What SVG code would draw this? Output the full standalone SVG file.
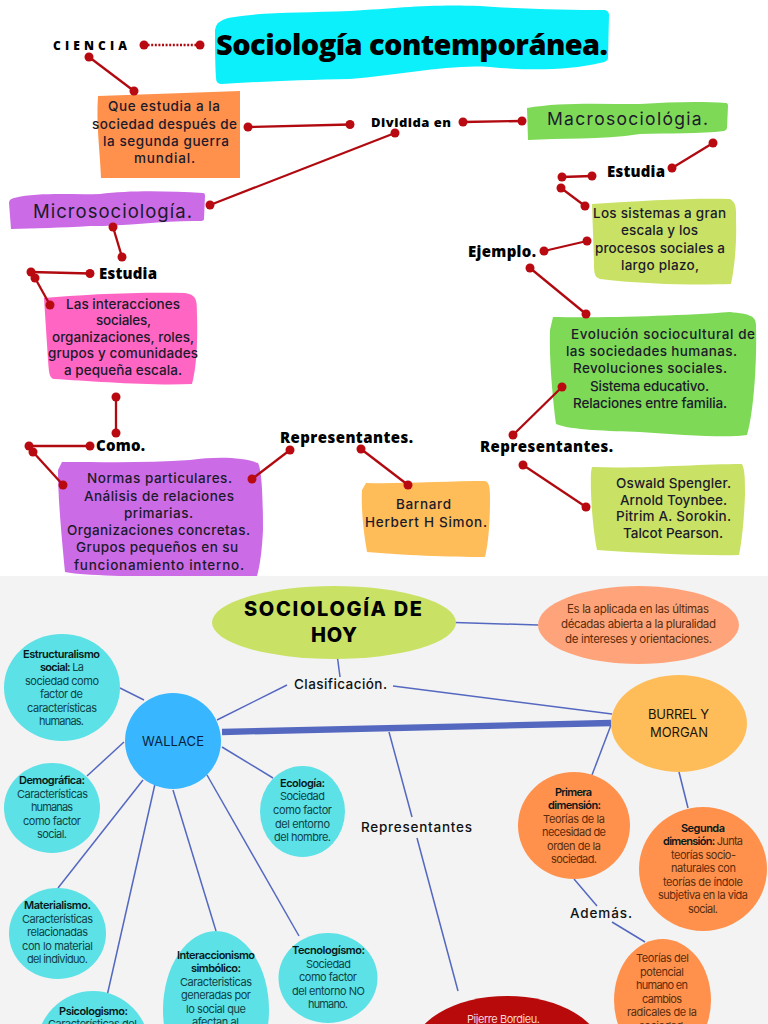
<svg xmlns="http://www.w3.org/2000/svg" width="768" height="1024" viewBox="0 0 768 1024">
<style>
.m{font-family:Inter,"Open Sans","Liberation Sans",sans-serif;font-weight:500;font-size:13.5px;fill:#1c1a2a}
.k{font-family:"Open Sans","Liberation Sans",sans-serif;font-weight:800;font-size:15px;fill:#000}
.l{font-family:Inter,"Liberation Sans",sans-serif;font-weight:400;font-size:11px}
.b{font-weight:600;fill:#06181a}
.c{fill:#0f4347}.o{fill:#5a2d0c}
.h{font-family:Inter,"Liberation Sans",sans-serif;font-weight:500;font-size:13.5px;fill:#111}
.t{font-family:Inter,"Liberation Sans",sans-serif;font-weight:800;font-size:20px;fill:#000}
.r line{stroke:#b00a10;stroke-width:2.3}
.r circle{fill:#b80a10;r:4.5px}
.u line{stroke:#5468c0;stroke-width:1.5}
</style>
<rect width="768" height="1024" fill="#fff"/>
<g id="titulo"><path d="M215 30Q216 21 228 18C260 12 300 13 350 11C400 8 430 4 480 6C520 9 570 10 605 10Q609 11 609 15L608 58Q608 62 600 63C570 70 530 71 490 67C450 64 400 75 350 79C300 80 250 82 222 84Q216 84 216 78C215 60 215 45 215 30Z" fill="#0cf0fb"/><text x="216" y="55" textLength="392" style="font-family:'Open Sans','Liberation Sans',sans-serif;font-weight:800;font-size:29px;fill:#000">Sociología contemporánea.</text></g>
<g id="ciencia"><text class="k" x="53" y="50" textLength="74" style="font-size:12px">CIENCIA</text></g>
<g id="que"><path d="M98 96L240 91L240 178L101 178C100 150 96 125 98 96Z" fill="#ff914d"/>
<text class="m" x="108" y="111" textLength="112">Que estudia a la</text><text class="m" x="92" y="129" textLength="145">sociedad después de</text><text class="m" x="103" y="146" textLength="126">la segunda guerra</text><text class="m" x="134" y="163" textLength="61">mundial.</text></g>
<g id="dividida"><text class="k" x="371" y="127" textLength="80" style="font-size:13px">Dividida en</text></g>
<g id="macro"><path d="M527 108C560 102 600 104 640 104C670 102 700 101 726 103Q728 103 728 106L727 128Q727 130 724 131C700 134 670 133 640 134C600 140 560 138 528 140Z" fill="#7ed957"/><text class="m" x="547" y="125" textLength="161" style="font-size:17.500px;font-weight:400">Macrosociológia.</text></g>
<g id="micro"><path d="M9 203Q9 199 14 198C40 192 70 195 100 194C130 190 170 191 203 193Q205 193 205 196L204 219Q204 221 200 221C170 220 130 226 90 226C60 228 35 228 11 229Z" fill="#cb6ce6"/><text class="m" x="33" y="218" textLength="159" style="font-size:18.500px;font-weight:400">Microsociología.</text></g>
<g id="estudia2"><text class="k" x="607" y="177" textLength="58">Estudia</text></g>
<g id="sistemas"><path d="M592 204C640 201 690 198 730 199C737 203 736 210 736 220C737 245 734 270 731 284C700 285 650 285 600 279C594 277 594 272 594 262Z" fill="#c9e265"/>
<text class="m" x="593" y="218" textLength="133">Los sistemas a gran</text><text class="m" x="621" y="235" textLength="77">escala y los</text><text class="m" x="595" y="253" textLength="130">procesos sociales a</text><text class="m" x="621" y="270" textLength="78">largo plazo,</text></g>
<g id="ejemplo"><text class="k" x="468" y="257" textLength="68">Ejemplo.</text></g>
<g id="estudia1"><text class="k" x="99" y="279" textLength="58">Estudia</text></g>
<g id="interacciones"><path d="M44 298C80 295 130 292 185 293C197 295 197 300 197 315C198 345 196 370 192 384C150 386 90 381 54 379C49 378 49 372 48 360Z" fill="#ff66c4"/>
<text class="m" x="66" y="309" textLength="114">Las interacciones</text><text class="m" x="96" y="325" textLength="55">sociales,</text><text class="m" x="52" y="342" textLength="142">organizaciones, roles,</text><text class="m" x="48" y="358" textLength="150">grupos y comunidades</text><text class="m" x="64" y="375" textLength="118">a pequeña escala.</text></g>
<g id="como"><text class="k" x="96" y="451" textLength="49">Como.</text></g>
<g id="normas"><path d="M62 462C110 462 150 463 190 460C220 456 245 458 258 463C262 470 263 500 263 530C262 550 260 565 257 576L120 576C100 575 80 575 65 572C62 540 58 500 58 470Z" fill="#cb6ce6"/>
<text class="m" x="87" y="483" textLength="145">Normas particulares.</text><text class="m" x="84" y="501" textLength="150">Análisis de relaciones</text><text class="m" x="124" y="518" textLength="69">primarias.</text><text class="m" x="67" y="535" textLength="183">Organizaciones concretas.</text><text class="m" x="76" y="552" textLength="162">Grupos pequeños en su</text><text class="m" x="74" y="570" textLength="170">funcionamiento interno.</text></g>
<g id="rep1"><text class="k" x="280" y="443" textLength="133">Representantes.</text></g>
<g id="barnard"><path d="M366 483C400 484 450 481 485 481C490 482 490 490 490 500C490 525 488 545 485 557C450 557 400 555 367 552C363 530 361 505 362 490Z" fill="#ffbd59"/>
<text class="m" x="396" y="509" textLength="55">Barnard</text><text class="m" x="365" y="527" textLength="122">Herbert H Simon.</text></g>
<g id="evolucion"><path d="M553 317C600 318 680 316 730 312C750 314 756 316 756 325C757 360 754 410 747 435C730 438 680 435 640 432C610 431 570 430 556 424C553 400 549 360 550 330Z" fill="#7ed957"/>
<text class="m" x="571" y="339" textLength="184">Evolución sociocultural de</text><text class="m" x="566" y="356" textLength="171">las sociedades humanas.</text><text class="m" x="573" y="373" textLength="154">Revoluciones sociales.</text><text class="m" x="590" y="391" textLength="119">Sistema educativo.</text><text class="m" x="573" y="408" textLength="154">Relaciones entre familia.</text></g>
<g id="rep2"><text class="k" x="480" y="452" textLength="133">Representantes.</text></g>
<g id="oswald"><path d="M592 467C640 469 700 464 742 464C745 470 745 480 745 495C744 520 742 540 739 555C700 556 640 553 597 550C593 530 590 495 591 472Z" fill="#c9e265"/>
<text class="m" x="616" y="488" textLength="115">Oswald Spengler.</text><text class="m" x="620" y="505" textLength="107">Arnold Toynbee.</text><text class="m" x="616" y="521" textLength="115">Pitrim A. Sorokin.</text><text class="m" x="623" y="538" textLength="100">Talcot Pearson.</text></g>
<g id="rojos" class="r">
<line x1="144" y1="45" x2="200" y2="45" stroke-dasharray="2 1.6"/><circle cx="144" cy="45"/><circle cx="200" cy="45"/>
<line x1="89" y1="57" x2="134" y2="91"/><circle cx="89" cy="57"/><circle cx="134" cy="91"/>
<line x1="248" y1="127" x2="350" y2="124.5"/><circle cx="248" cy="127"/><circle cx="350" cy="124.5"/>
<line x1="395" y1="133" x2="210" y2="205"/><circle cx="395" cy="133"/><circle cx="210" cy="205"/>
<line x1="113" y1="227" x2="122" y2="257"/><circle cx="113" cy="227"/><circle cx="122" cy="257"/>
<line x1="31" y1="272" x2="90" y2="273.5"/><circle cx="31" cy="272"/><circle cx="90" cy="273.5"/>
<line x1="35" y1="278" x2="50" y2="305"/><circle cx="35" cy="278"/><circle cx="50" cy="305"/>
<line x1="116" y1="397" x2="116" y2="433"/><circle cx="116" cy="397"/><circle cx="116" cy="433"/>
<line x1="29" y1="446" x2="90" y2="446"/><circle cx="29" cy="446"/><circle cx="90" cy="446"/>
<line x1="33" y1="452" x2="63" y2="485"/><circle cx="33" cy="452"/><circle cx="63" cy="485"/>
<line x1="252" y1="479" x2="290" y2="450"/><circle cx="252" cy="479"/><circle cx="290" cy="450"/>
<line x1="361" y1="449" x2="408" y2="485"/><circle cx="361" cy="449"/><circle cx="408" cy="485"/>
<line x1="463" y1="122" x2="522" y2="121"/><circle cx="463" cy="122"/><circle cx="522" cy="121"/>
<line x1="713" y1="143" x2="672" y2="168"/><circle cx="713" cy="143"/><circle cx="672" cy="168"/>
<line x1="562" y1="177" x2="592" y2="176"/><circle cx="562" cy="177"/><circle cx="592" cy="176"/>
<line x1="561" y1="188" x2="585" y2="206"/><circle cx="561" cy="188"/><circle cx="585" cy="206"/>
<line x1="544" y1="251" x2="587" y2="241"/><circle cx="544" cy="251"/><circle cx="587" cy="241"/>
<line x1="530" y1="268" x2="586" y2="314"/><circle cx="530" cy="268"/><circle cx="586" cy="314"/>
<line x1="562" y1="387" x2="513" y2="435"/><circle cx="562" cy="387"/><circle cx="513" cy="435"/>
<line x1="523" y1="465" x2="586" y2="507"/><circle cx="523" cy="465"/><circle cx="586" cy="507"/>
</g>
<rect id="fondo" x="0" y="576" width="768" height="448" fill="#f3f3f3"/>
<g id="azules" class="u">
<line x1="222" y1="732" x2="611" y2="723" style="stroke-width:6.3"/>
<line x1="455" y1="622.500" x2="538" y2="625"/>
<line x1="337" y1="654" x2="340" y2="677"/>
<line x1="287" y1="685" x2="217" y2="720"/>
<line x1="393" y1="686" x2="612" y2="714"/>
<line x1="120" y1="688" x2="144" y2="700"/>
<line x1="87" y1="776" x2="124" y2="742"/>
<line x1="143" y1="780" x2="58" y2="888"/>
<line x1="155" y1="784" x2="107" y2="996"/>
<line x1="173" y1="790" x2="216" y2="931"/>
<line x1="207" y1="775" x2="299" y2="936"/>
<line x1="222" y1="747" x2="273" y2="778"/>
<line x1="389" y1="732" x2="412" y2="817"/>
<line x1="417" y1="838" x2="458" y2="991"/>
<line x1="611" y1="725" x2="592" y2="775"/>
<line x1="679" y1="772" x2="688" y2="808"/>
<line x1="574" y1="879" x2="597" y2="906"/>
<line x1="612" y1="922" x2="645" y2="942"/>
</g>
<g id="hoy"><ellipse cx="334" cy="622.500" rx="122" ry="36.500" fill="#c9e265"/><text class="t" x="244" y="616" textLength="178">SOCIOLOGÍA DE</text><text class="t" x="311" y="642" textLength="46">HOY</text></g>
<g id="aplicada"><ellipse cx="638.500" cy="625" rx="100.500" ry="39" fill="#ffa47a"/><text class="l o" x="567" y="613" textLength="142" style="font-size:11.500px">Es la aplicada en las últimas</text><text class="l o" x="561" y="628" textLength="155" style="font-size:11.500px">décadas abierta a la pluralidad</text><text class="l o" x="565" y="643" textLength="147" style="font-size:11.500px">de intereses y orientaciones.</text></g>
<g id="clasificacion"><text class="h" x="294" y="689" textLength="93">Clasificación.</text></g>
<g id="burrel"><ellipse cx="679" cy="723.500" rx="68" ry="48.500" fill="#ffbd59"/><text class="l" x="648" y="719" textLength="61" style="font-size:13px;fill:#1c1408">BURREL Y</text><text class="l" x="650" y="737" textLength="58" style="font-size:13px;fill:#1c1408">MORGAN</text></g>
<g id="wallace"><circle cx="173" cy="741" r="48" fill="#38b6ff"/><text class="l" x="142" y="746" textLength="62" style="font-size:13px;fill:#07233d">WALLACE</text></g>
<g id="estructuralismo"><ellipse cx="62" cy="687.500" rx="58" ry="53.500" fill="#5ce1e6"/>
<text class="l c" x="23" y="658" textLength="77"><tspan class="b">Estructuralismo</tspan></text><text class="l c" x="40" y="671" textLength="44"><tspan class="b">social:</tspan> La</text><text class="l c" x="25" y="685" textLength="74">sociedad como</text><text class="l c" x="40" y="698" textLength="43">factor de</text><text class="l c" x="27" y="712" textLength="70">características</text><text class="l c" x="39" y="725" textLength="45">humanas.</text></g>
<g id="demografica"><ellipse cx="52" cy="808" rx="48" ry="45" fill="#5ce1e6"/>
<text class="l b" x="19" y="784" textLength="66">Demográfica:</text><text class="l c" x="17" y="798" textLength="71">Características</text><text class="l c" x="31" y="811" textLength="42">humanas</text><text class="l c" x="23" y="825" textLength="58">como factor</text><text class="l c" x="37" y="838" textLength="30">social.</text></g>
<g id="ecologia"><ellipse cx="302.500" cy="811.500" rx="42.500" ry="45.500" fill="#5ce1e6"/>
<text class="l b" x="280" y="787" textLength="45">Ecología:</text><text class="l c" x="280" y="800" textLength="45">Sociedad</text><text class="l c" x="273" y="814" textLength="59">como factor</text><text class="l c" x="275" y="828" textLength="55">del entorno</text><text class="l c" x="274" y="841" textLength="57">del hombre.</text></g>
<g id="materialismo"><ellipse cx="57.500" cy="933.500" rx="48.500" ry="45.500" fill="#5ce1e6"/>
<text class="l b" x="24" y="909" textLength="67">Materialismo.</text><text class="l c" x="22" y="923" textLength="71">Características</text><text class="l c" x="27" y="936" textLength="61">relacionadas</text><text class="l c" x="22" y="950" textLength="71">con lo material</text><text class="l c" x="27" y="963" textLength="61">del individuo.</text></g>
<g id="psicologismo"><ellipse cx="93" cy="1050" rx="57" ry="59" fill="#5ce1e6"/>
<text class="l b" x="59" y="1015" textLength="69">Psicologismo:</text><text class="l c" x="48" y="1028" textLength="89">Características del</text></g>
<g id="simbolico"><ellipse cx="216" cy="1010" rx="53" ry="79" fill="#5ce1e6"/>
<text class="l b" x="177" y="959" textLength="78">Interaccionismo</text><text class="l b" x="191" y="972" textLength="50">simbólico:</text><text class="l c" x="180" y="986" textLength="72">Caracteristicas</text><text class="l c" x="181" y="999" textLength="70">generadas por</text><text class="l c" x="186" y="1013" textLength="60">lo social que</text><text class="l c" x="192" y="1026" textLength="47">afectan al</text></g>
<g id="tecnologismo"><ellipse cx="328" cy="978" rx="49.500" ry="45" fill="#5ce1e6"/>
<text class="l b" x="292" y="954" textLength="73">Tecnologísmo:</text><text class="l c" x="306" y="968" textLength="45">Sociedad</text><text class="l c" x="299" y="981" textLength="58">como factor</text><text class="l c" x="292" y="995" textLength="73">del entorno NO</text><text class="l c" x="308" y="1008" textLength="40">humano.</text></g>
<g id="representantes"><text class="h" x="361" y="832" textLength="111">Representantes</text></g>
<g id="primera"><ellipse cx="574" cy="825.500" rx="56" ry="53.500" fill="#ff914d"/>
<text class="l b" x="555" y="796" textLength="37">Primera</text><text class="l b" x="548" y="809" textLength="53">dimensión:</text><text class="l o" x="543" y="823" textLength="62">Teorías de la</text><text class="l o" x="542" y="836" textLength="64">necesidad de</text><text class="l o" x="547" y="850" textLength="54">orden de la</text><text class="l o" x="551" y="863" textLength="46">sociedad.</text></g>
<g id="segunda"><ellipse cx="703" cy="869" rx="64" ry="62" fill="#ff914d"/>
<text class="l b" x="681" y="832" textLength="44">Segunda</text><text class="l o" x="663" y="845" textLength="80"><tspan class="b">dimensión:</tspan> Junta</text><text class="l o" x="671" y="859" textLength="65">teorías socio-</text><text class="l o" x="671" y="872" textLength="65">naturales con</text><text class="l o" x="663" y="886" textLength="80">teorías de índole</text><text class="l o" x="658" y="899" textLength="90">subjetiva en la vida</text><text class="l o" x="688" y="913" textLength="30">social.</text></g>
<g id="ademas"><text class="h" x="570" y="918" textLength="62">Además.</text></g>
<g id="potencial"><ellipse cx="662.500" cy="1000" rx="48.500" ry="61" fill="#ff914d"/>
<text class="l o" x="636" y="962" textLength="53">Teorías del</text><text class="l o" x="640" y="976" textLength="44">potencial</text><text class="l o" x="636" y="989" textLength="52">humano en</text><text class="l o" x="642" y="1003" textLength="40">cambios</text><text class="l o" x="627" y="1016" textLength="70">radicales de la</text><text class="l o" x="639" y="1030" textLength="47">sociedad.</text></g>
<g id="bordieu"><ellipse cx="507" cy="1052" rx="95" ry="56" fill="#b80a0a"/><text class="l" x="467" y="1023" textLength="73" style="fill:#f6d5d5">Pijerre Bordieu.</text></g>
</svg>
